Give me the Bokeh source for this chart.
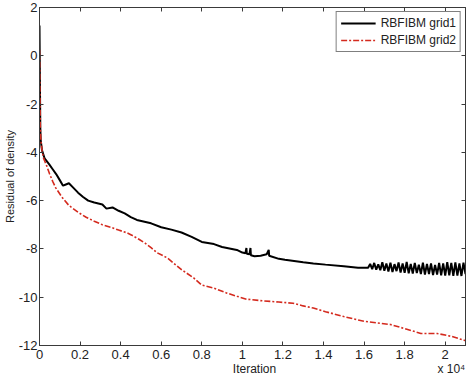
from bokeh.plotting import figure
from bokeh.models import Range1d, LinearAxis, FixedTicker, Legend, LegendItem
from bokeh.embed import file_html
from bokeh.resources import INLINE

# ---- data (iteration in units of 10^4) ----
grid1_x = [0.000, 0.002, 0.004, 0.006, 0.012, 0.025, 0.048, 0.065, 0.082, 0.100,
           0.116, 0.130, 0.145, 0.165, 0.190, 0.215, 0.240, 0.270, 0.310, 0.330,
           0.360, 0.390, 0.420, 0.450, 0.480, 0.550, 0.600, 0.650, 0.700, 0.750,
           0.800, 0.860, 0.900, 0.973, 1.000, 1.015, 1.020, 1.022, 1.035, 1.040,
           1.042, 1.060, 1.090, 1.120, 1.130, 1.132, 1.180, 1.210, 1.300, 1.350,
           1.410, 1.500, 1.570, 1.620,
           1.63, 1.64, 1.65, 1.66, 1.67, 1.68, 1.69, 1.70, 1.71, 1.72,
           1.73, 1.74, 1.75, 1.76, 1.77, 1.78, 1.79, 1.80, 1.81, 1.82,
           1.83, 1.84, 1.85, 1.86, 1.87, 1.88, 1.89, 1.90, 1.91, 1.92,
           1.93, 1.94, 1.95, 1.96, 1.97, 1.98, 1.99, 2.00, 2.01, 2.02,
           2.03, 2.04, 2.05, 2.06, 2.07, 2.08, 2.09, 2.10]
grid1_y = [1.25, -1.0, -3.0, -3.5, -3.9, -4.25, -4.5, -4.7, -4.9, -5.15,
           -5.38, -5.33, -5.28, -5.45, -5.67, -5.85, -6.0, -6.08, -6.16, -6.33,
           -6.28, -6.42, -6.53, -6.68, -6.8, -6.94, -7.1, -7.2, -7.32, -7.5,
           -7.71, -7.8, -7.92, -8.04, -8.15, -8.18, -7.96, -8.2, -8.22, -7.96,
           -8.26, -8.3, -8.28, -8.22, -8.04, -8.28, -8.41, -8.45, -8.55, -8.6,
           -8.65, -8.72, -8.78, -8.78,
           -8.62, -8.84, -8.58, -8.86, -8.64, -8.88, -8.55, -8.90, -8.60, -8.94,
           -8.57, -8.96, -8.63, -8.92, -8.56, -8.98, -8.60, -8.99, -8.54, -9.01,
           -8.62, -9.02, -8.58, -9.00, -8.65, -9.04, -8.57, -9.06, -8.62, -9.04,
           -8.60, -9.08, -8.66, -9.06, -8.58, -9.09, -8.60, -9.10, -8.55, -9.09,
           -8.58, -9.12, -8.56, -9.10, -8.60, -9.12, -8.57, -9.04]

grid2_x = [0.000, 0.002, 0.004, 0.006, 0.012, 0.020, 0.035, 0.050, 0.065, 0.080,
           0.110, 0.145, 0.190, 0.230, 0.270, 0.310, 0.350, 0.390, 0.430, 0.455,
           0.490, 0.520, 0.550, 0.580, 0.630, 0.700, 0.760, 0.800, 0.860, 0.920,
           0.973, 1.020, 1.100, 1.180, 1.250, 1.300, 1.350, 1.410, 1.500, 1.600,
           1.680, 1.730, 1.800, 1.880, 1.960, 2.030, 2.100]
grid2_y = [0.25, -1.5, -3.0, -3.4, -3.9, -4.24, -4.55, -4.9, -5.2, -5.47,
           -5.85, -6.2, -6.48, -6.69, -6.85, -7.0, -7.1, -7.22, -7.33, -7.43,
           -7.6, -7.76, -7.95, -8.16, -8.37, -8.86, -9.2, -9.5, -9.62, -9.82,
           -9.96, -10.08, -10.15, -10.2, -10.25, -10.36, -10.45, -10.6, -10.8, -11.0,
           -11.08, -11.13, -11.3, -11.5, -11.5, -11.62, -11.8]

x_ticks = [0, 0.2, 0.4, 0.6, 0.8, 1.0, 1.2, 1.4, 1.6, 1.8, 2.0]
x_tick_labels = ["0", "0.2", "0.4", "0.6", "0.8", "1", "1.2", "1.4", "1.6", "1.8", "2"]
y_ticks = [-12, -10, -8, -6, -4, -2, 0, 2]
y_tick_labels = ["-12", "-10", "-8", "-6", "-4", "-2", "0", "2"]

series_names = ["RBFIBM grid1", "RBFIBM grid2"]
x_title = "Iteration"
x_multiplier = "x 10\u2074"
y_title = "Residual of density"

FONT = "Liberation Sans"
AXC = "#3a3a3a"
TXC = "#222222"

p = figure(width=466, height=378, output_backend="svg", toolbar_location=None,
           x_range=Range1d(0, 2.1), y_range=Range1d(-12, 2),
           min_border_left=39, min_border_right=1, min_border_top=7,
           min_border_bottom=20)
p.xgrid.grid_line_color = None
p.ygrid.grid_line_color = None
p.outline_line_color = AXC
p.background_fill_color = "white"

def style_axis(ax, ticks, labels, show_labels):
    ax.ticker = FixedTicker(ticks=ticks)
    ax.major_tick_in = 4
    ax.major_tick_out = 0
    ax.minor_tick_in = 0
    ax.minor_tick_out = 0
    ax.axis_line_color = AXC
    ax.major_tick_line_color = AXC
    ax.major_label_text_font = FONT
    if show_labels:
        ax.major_label_overrides = {t: l for t, l in zip(ticks, labels)}
        ax.major_label_text_font_size = "13px"
        ax.major_label_text_color = TXC
    else:
        ax.major_label_text_font_size = "1px"
        ax.major_label_text_color = None
        ax.major_label_standoff = 0

style_axis(p.xaxis[0], x_ticks, x_tick_labels, True)
style_axis(p.yaxis[0], y_ticks, y_tick_labels, True)
p.xaxis[0].major_label_standoff = 4
p.yaxis[0].major_label_standoff = 2
p.yaxis[0].axis_label = y_title
p.yaxis[0].axis_label_text_font = FONT
p.yaxis[0].axis_label_text_font_size = "11px"
p.yaxis[0].axis_label_text_font_style = "normal"
p.yaxis[0].axis_label_text_color = TXC
p.yaxis[0].axis_label_standoff = 0

# second row under the x tick labels: axis title and the x 10^4 multiplier
title_pos = [1.06, 2.03]
title_ax = LinearAxis(ticker=FixedTicker(ticks=title_pos))
title_ax.major_label_overrides = {title_pos[0]: x_title, title_pos[1]: x_multiplier}
title_ax.axis_line_color = None
title_ax.major_tick_line_color = None
title_ax.minor_tick_line_color = None
title_ax.major_tick_in = 0
title_ax.major_tick_out = 0
title_ax.minor_tick_in = 0
title_ax.minor_tick_out = 0
title_ax.major_label_standoff = 0
title_ax.major_label_text_font = FONT
title_ax.major_label_text_font_size = "12px"
title_ax.major_label_text_color = TXC
p.add_layout(title_ax, "below")

top_ax = LinearAxis()
style_axis(top_ax, x_ticks, x_tick_labels, False)
p.add_layout(top_ax, "above")
right_ax = LinearAxis()
style_axis(right_ax, y_ticks, y_tick_labels, False)
p.add_layout(right_ax, "right")

r1 = p.line(grid1_x, grid1_y, line_color="black", line_width=2)
r2 = p.line(grid2_x, grid2_y, line_color="#d42a1e", line_width=1.6,
            line_dash="6 2 2 2")

legend = Legend(items=[LegendItem(label=series_names[0], renderers=[r1]),
                       LegendItem(label=series_names[1], renderers=[r2])],
                location="top_right")
legend.border_line_color = "black"
legend.border_line_width = 1
legend.background_fill_color = "white"
legend.background_fill_alpha = 1
legend.label_text_font = FONT
legend.label_text_font_size = "12px"
legend.label_text_color = TXC
legend.glyph_width = 35
legend.glyph_height = 14
legend.label_height = 14
legend.label_standoff = 5
legend.padding = 4
legend.spacing = 3
legend.margin = 4
p.add_layout(legend)

open("out.html", "w").write(file_html(p, INLINE))
